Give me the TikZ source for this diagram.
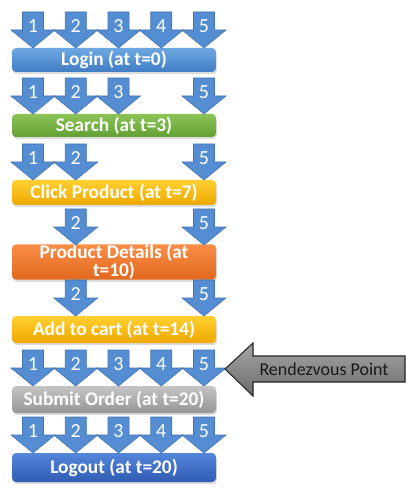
\documentclass[tikz,border=0pt]{standalone}
\usepackage{fontspec}
\setmainfont{Carlito}
\usetikzlibrary{shadows}

\definecolor{arrowblue}{RGB}{84,141,210}
\definecolor{arrowedge}{RGB}{66,115,175}

\tikzset{
  stagebox/.style={rounded corners=3pt, minimum width=153pt, inner sep=0pt,
    text=white, font=\bfseries\fontsize{14.5}{13.5}\selectfont, align=center,
    drop shadow={shadow xshift=0.6pt, shadow yshift=-1.6pt, opacity=0.28}},
  userarrow/.style={fill=arrowblue, draw=arrowedge, line width=0.4pt, line join=miter},
  usernum/.style={text=white, inner sep=0pt, font=\fontsize{15}{15}\selectfont},
}

% one user arrow: #1 column (= user number), #2 tip y, #3 row name
\def\userarrow#1#2#3{%
  \pgfmathsetmacro\ux{33+42.75*(#1-1)}
  \draw[userarrow] (\ux-10.5,#2-36) -- (\ux+10.5,#2-36) -- (\ux+10.5,#2-18) -- (\ux+22,#2-18) -- (\ux,#2) -- (\ux-22,#2-18) -- (\ux-10.5,#2-18) -- cycle;
  \node[usernum] (#3-#1) at (\ux,#2-22) {#1};
}

\begin{document}
\begin{tikzpicture}[x=0.75pt, y=-0.75pt]
  \useasboundingbox (0,0) rectangle (418,491);
  %%%%% START %%%%%

  \node[stagebox, minimum height=18pt, top color={rgb,255:red,110;green,168;blue,226}, bottom color={rgb,255:red,64;green,126;blue,196}] (login) at (114,60) {Login (at t=0)};
  \node[stagebox, minimum height=17.25pt, top color={rgb,255:red,140;green,196;blue,86}, bottom color={rgb,255:red,98;green,160;blue,52}] (search) at (114,125.5) {Search (at t=3)};
  \node[stagebox, minimum height=18.75pt, top color={rgb,255:red,255;green,208;blue,50}, bottom color={rgb,255:red,238;green,168;blue,0}] (click) at (114,192.5) {Click Product (at t=7)};
  \node[stagebox, minimum height=24pt, top color={rgb,255:red,248;green,142;blue,72}, bottom color={rgb,255:red,226;green,104;blue,30}] (details) at (114,262) {Product Details (at\\t=10)};
  \node[stagebox, minimum height=20.25pt, top color={rgb,255:red,255;green,208;blue,50}, bottom color={rgb,255:red,238;green,168;blue,0}] (cart) at (114,329.5) {Add to cart (at t=14)};
  \node[stagebox, minimum height=20.25pt, top color={rgb,255:red,196;green,196;blue,196}, bottom color={rgb,255:red,150;green,150;blue,150}] (submit) at (114,399.5) {Submit Order (at t=20)};
  \node[stagebox, minimum height=21.75pt, top color={rgb,255:red,84;green,134;blue,218}, bottom color={rgb,255:red,48;green,92;blue,180}] (logout) at (114,467.5) {Logout (at t=20)};

  \foreach \n in {1,...,5} {\userarrow{\n}{48}{a}}
  \foreach \n in {1,2,3,5} {\userarrow{\n}{114}{b}}
  \foreach \n in {1,2,5} {\userarrow{\n}{180}{c}}
  \foreach \n in {2,5} {\userarrow{\n}{245}{d}}
  \foreach \n in {2,5} {\userarrow{\n}{316}{e}}
  \foreach \n in {1,...,5} {\userarrow{\n}{386}{f}}
  \foreach \n in {1,...,5} {\userarrow{\n}{453}{g}}

  % rendezvous pointer
  \draw[top color=black!35, bottom color=black!58, draw=black!85, line width=0.8pt, line join=miter]
    (225,369) -- (253,343) -- (253,356) -- (405,356) -- (405,382) -- (253,382) -- (253,396) -- cycle;
  \node[text=black!90, font=\fontsize{13.5}{13.5}\selectfont] (rv) at (324,369) {Rendezvous Point};

  %%%%% END %%%%%
\end{tikzpicture}
\end{document}
